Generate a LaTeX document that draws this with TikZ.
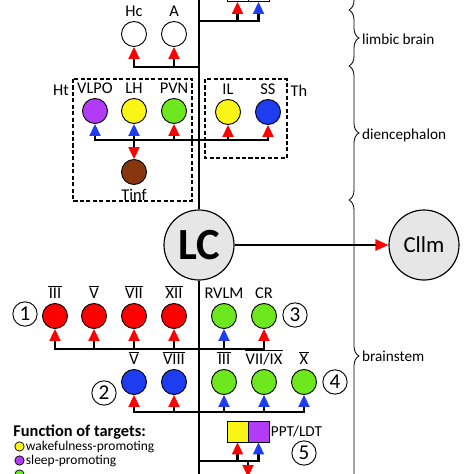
\documentclass[tikz,border=0pt]{standalone}
\usepackage{fontspec}
\setmainfont{Carlito}
\usetikzlibrary{arrows.meta,positioning,decorations.pathreplacing}
\definecolor{wake}{RGB}{250,245,20}
\definecolor{sleep}{RGB}{178,60,245}
\definecolor{auto}{RGB}{110,232,30}
\definecolor{sens}{RGB}{30,60,240}
\definecolor{motor}{RGB}{255,0,0}
\definecolor{tinfc}{RGB}{135,55,15}
\definecolor{lcgray}{RGB}{230,230,230}
\newsavebox\rnbox
\newcommand{\ovl}[1]{\sbox\rnbox{#1}\rlap{\kern-0.5pt\rule[\dimexpr\ht\rnbox+1.3pt\relax]{\dimexpr\wd\rnbox+1pt\relax}{1pt}}\usebox\rnbox}
\begin{document}
\begin{tikzpicture}[x=0.03cm,y=-0.03cm,
  every node/.style = {font=\fontsize{14}{16}\selectfont},
  nuc/.style  = {shape=circle, draw, line width=0.8pt,
    minimum size=0.75cm, inner sep=0pt, label distance=-2pt},
  num/.style  = {shape=circle, draw, line width=0.8pt,
    minimum size=0.73cm, inner sep=0pt, font=\fontsize{18}{20}\selectfont},
  big/.style  = {shape=circle, draw, line width=1pt, fill=lcgray,
    minimum size=2.1cm, inner sep=0pt},
  sq/.style   = {shape=rectangle, draw, line width=0.8pt,
    minimum size=0.63cm, inner sep=0pt},
  dot/.style  = {shape=circle, draw, line width=0.6pt,
    minimum size=0.28cm, inner sep=0pt},
  area/.style = {anchor=west, font=\fontsize{13}{15}\selectfont},
  key/.style  = {inner sep=1pt, font=\fontsize{11.5}{13}\selectfont},
  bus/.style  = {line width=1.8pt},
  exc/.style  = {bus, -{Triangle[color=motor,length=0.36cm,width=0.33cm]}},
  inh/.style  = {bus, -{Triangle[color=sens,length=0.36cm,width=0.33cm]}},
  region/.style = {draw, line width=1.2pt, dash pattern=on 3.5pt off 2pt},
  part/.style = {decorate, decoration={brace,amplitude=0.3cm}, line width=0.7pt}]
\useasboundingbox (0,0) rectangle (474,474);
\clip (0,0) rectangle (474,474);
\draw[region] (73,79) rectangle (192,201);
\draw[region] (205,79) rectangle (287,158);
\node (Ht) at (61,90) {Ht};
\node (Th) at (299,91) {Th};
\node[sq] (top1) at (237.5,-9) {};
\node[sq] (top2) at (258.5,-9) {};
\node[nuc, fill=white, label=above:Hc] (Hc) at (134,34) {};
\node[nuc, fill=white, label=above:A] (A) at (174,34) {};
\node[nuc, fill=sleep, label=above:VLPO] (VLPO) at (95,111) {};
\node[nuc, fill=wake, label=above:LH] (LH) at (134,111) {};
\node[nuc, fill=auto, label=above:PVN] (PVN) at (174,111) {};
\node[nuc, fill=wake, label=above:IL] (IL) at (228,112) {};
\node[nuc, fill=sens, label=above:SS] (SS) at (268,112) {};
\node[nuc, fill=tinfc, label=below:Tinf] (Tinf) at (134,172) {};
\node[big, font=\fontsize{38}{40}\selectfont\bfseries] (LC) at (199,245) {LC};
\node[big, font=\fontsize{19.5}{22}\selectfont] (Cllm) at (424,245) {Cllm};
\node[nuc, fill=motor, label={above:\ovl{III}}] (mIII) at (55,316) {};
\node[nuc, fill=motor, label={above:\ovl{V}}] (mV) at (94,316) {};
\node[nuc, fill=motor, label={above:\ovl{VII}}] (mVII) at (134,316) {};
\node[nuc, fill=motor, label={above:\ovl{XII}}] (mXII) at (174,316) {};
\node[nuc, fill=auto, label=above:RVLM] (RVLM) at (224,316) {};
\node[nuc, fill=auto, label=above:CR] (CR) at (264,316) {};
\node[nuc, fill=sens, label={above:\ovl{V}}] (sV) at (134,382) {};
\node[nuc, fill=sens, label={above:\ovl{VIII}}] (sVIII) at (174,382) {};
\node[nuc, fill=auto, label={above:\ovl{III}}] (aIII) at (224,382) {};
\node[nuc, fill=auto, label={above:\ovl{VII/IX}}] (aVIIIX) at (264,382) {};
\node[nuc, fill=auto, label={above:\ovl{X}}] (aX) at (304,382) {};
\node[sq, fill=wake] (ppt1) at (237.5,431.5) {};
\node[sq, fill=sleep] (ppt2) at (258.5,431.5) {};
\node[anchor=west, inner sep=1pt, font=\fontsize{13}{15}\selectfont] (pptlab) at (ppt2.east) {PPT/LDT};
\node[num] (n1) at (25,314) {1};
\node[num] (n2) at (104,393) {2};
\node[num] (n3) at (295,315) {3};
\node[num] (n4) at (335,382) {4};
\node[num] (n5) at (304,453) {5};
\coordinate (top) at (199,-5);
\coordinate (bottom) at (199,480);
\coordinate (b0) at (199,21);
\coordinate (b1) at (199,67);
\coordinate (b2) at (199,140);
\coordinate (b3) at (199,349);
\coordinate (b4) at (199,412);
\coordinate (b5) at (199,461);
\coordinate (out5) at (248,477);
\draw[line width=2pt] (top) -- (LC) -- (bottom);
\draw[line width=2.2pt, -{Triangle[color=motor,length=0.39cm,width=0.33cm]}] (LC) -- (Cllm);
\draw[inh] (b0) -| (top2);
\draw[exc] (top1 |- b0) -- (top1);
\draw[exc] (b1) -| (Hc);
\draw[exc] (A |- b1) -- (A);
\draw[inh] (b2) -| (VLPO);
\draw[exc] (b2) -| (SS);
\draw[inh] (LH |- b2) -- (LH);
\draw[exc] (PVN |- b2) -- (PVN);
\draw[exc] (IL |- b2) -- (IL);
\draw[exc] (LH |- b2) -- (Tinf);
\draw[exc] (b3) -| (mIII);
\draw[exc] (b3) -| (CR);
\foreach \n in {mV,mVII,mXII}
  \draw[exc] (\n |- b3) -- (\n);
\draw[inh] (RVLM |- b3) -- (RVLM);
\draw[exc] (b4) -| (sV);
\draw[exc] (sVIII |- b4) -- (sVIII);
\draw[inh] (b4) -| (aX);
\foreach \n in {aIII,aVIIIX}
  \draw[inh] (\n |- b4) -- (\n);
\draw[inh] (b5) -| (ppt2);
\draw[exc] (ppt1 |- b5) -- (ppt1);
\draw[exc] (out5 |- b5) -- (out5);
\draw[part] (349,-70) -- (349,10);
\draw[part] (349,10) -- (349,66);
\draw[part] (349,66) -- (349,200);
\draw[part] (349,200) -- (349,512);
\node[area] (limbic) at (358,39) {limbic brain};
\node[area] (dienc) at (358,135) {diencephalon};
\node[area] (bstem) at (358,356) {brainstem};
\node[anchor=west, inner sep=1pt, font=\fontsize{14}{16}\selectfont\bfseries] (legend) at (12,432) {Function of targets:};
\node[dot, fill=wake] (dwake) at (19.5,446.5) {};
\node[dot, fill=sleep] (dsleep) at (19.5,460.5) {};
\node[dot, fill=auto] (dauto) at (19.5,474.5) {};
\node[key, right=0pt of dwake] (twake) {wakefulness-promoting};
\node[key, right=0pt of dsleep] (tsleep) {sleep-promoting};
\end{tikzpicture}
\end{document}
